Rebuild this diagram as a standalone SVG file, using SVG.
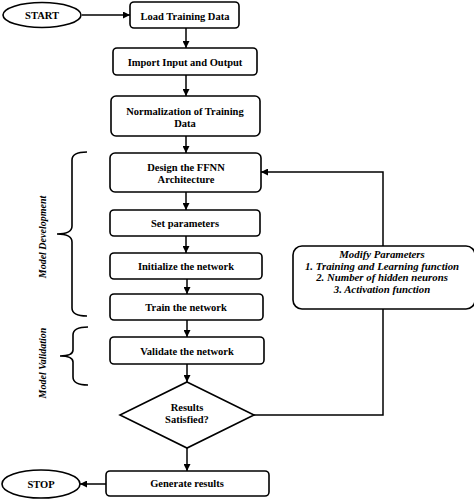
<svg xmlns="http://www.w3.org/2000/svg" width="474" height="501" viewBox="0 0 474 501">
<style>
.box{fill:#fff;stroke:#000;stroke-width:1.6}
.t{font-family:"Liberation Serif","Times New Roman",serif;font-weight:bold;font-size:10.5px;text-anchor:middle;fill:#000}
.it{font-family:"Liberation Serif","Times New Roman",serif;font-weight:bold;font-style:italic;font-size:10px;text-anchor:middle;fill:#000}
.mt{font-size:10.8px}
.c{fill:none;stroke:#000;stroke-width:1.5}
.br{fill:none;stroke:#000;stroke-width:1.6}
</style>
<defs>
<marker id="ah" viewBox="0 0 10 10" refX="10" refY="5" markerWidth="7" markerHeight="7" markerUnits="userSpaceOnUse" orient="auto">
<path d="M0,0 L10,5 L0,10 z" fill="#000"/>
</marker>
</defs>
<rect width="474" height="501" fill="#fff"/>
<g id="connectors">
<line class="c" x1="82" y1="15" x2="130" y2="15" marker-end="url(#ah)"/>
<line class="c" x1="186" y1="28" x2="186" y2="48" marker-end="url(#ah)"/>
<line class="c" x1="186" y1="75" x2="186" y2="96" marker-end="url(#ah)"/>
<line class="c" x1="186" y1="136" x2="186" y2="153" marker-end="url(#ah)"/>
<line class="c" x1="186" y1="192" x2="186" y2="210" marker-end="url(#ah)"/>
<line class="c" x1="186" y1="236" x2="186" y2="253" marker-end="url(#ah)"/>
<line class="c" x1="187" y1="279" x2="187" y2="294" marker-end="url(#ah)"/>
<line class="c" x1="187" y1="320" x2="187" y2="337" marker-end="url(#ah)"/>
<line class="c" x1="187" y1="364" x2="187" y2="382" marker-end="url(#ah)"/>
<line class="c" x1="187" y1="448" x2="187" y2="471" marker-end="url(#ah)"/>
<polyline class="c" points="254,415 383,415 383,172 261,172" marker-end="url(#ah)"/>
<line class="c" x1="106" y1="484" x2="80" y2="484" marker-end="url(#ah)"/>
</g>
<g id="start">
<ellipse class="box" cx="42" cy="15" rx="39" ry="12.5"/>
<text class="t" x="42" y="19">START</text>
</g>
<g id="load">
<rect class="box" x="130" y="2" width="109" height="26" rx="4"/>
<text class="t" x="185" y="19.5">Load Training Data</text>
</g>
<g id="import">
<rect class="box" x="113" y="48" width="144" height="27" rx="4"/>
<text class="t" x="185" y="66">Import Input and Output</text>
</g>
<g id="normalization">
<rect class="box" x="111" y="96" width="149" height="40" rx="5"/>
<text class="t" x="185" y="115">Normalization of Training</text>
<text class="t" x="185" y="126.5">Data</text>
</g>
<g id="design">
<rect class="box" x="110" y="153" width="151" height="39" rx="5"/>
<text class="t" x="186" y="171">Design the FFNN</text>
<text class="t" x="186" y="182.5">Architecture</text>
</g>
<g id="setparams">
<rect class="box" x="110" y="210" width="150" height="26" rx="4"/>
<text class="t" x="185" y="227">Set parameters</text>
</g>
<g id="initialize">
<rect class="box" x="110" y="253" width="152" height="26" rx="4"/>
<text class="t" x="186" y="270">Initialize the network</text>
</g>
<g id="train">
<rect class="box" x="110" y="294" width="153" height="26" rx="4"/>
<text class="t" x="186" y="311">Train the network</text>
</g>
<g id="validate">
<rect class="box" x="110" y="337" width="154" height="27" rx="4"/>
<text class="t" x="187" y="355">Validate the network</text>
</g>
<g id="decision">
<polygon class="box" points="187,382 254,415 187,448 120,415"/>
<text class="t" x="187" y="411">Results</text>
<text class="t" x="187" y="423">Satisfied?</text>
</g>
<g id="generate">
<rect class="box" x="106" y="471" width="163" height="25" rx="4"/>
<text class="t" x="187" y="487">Generate results</text>
</g>
<g id="stop">
<ellipse class="box" cx="41" cy="484" rx="39" ry="14"/>
<text class="t" x="41" y="488">STOP</text>
</g>
<g id="modify">
<rect class="box" x="293" y="246" width="182" height="63" rx="9"/>
<text class="it mt" x="382" y="258">Modify Parameters</text>
<text class="it mt" x="382" y="269.5">1. Training and Learning function</text>
<text class="it mt" x="382" y="281">2. Number of hidden neurons</text>
<text class="it mt" x="382" y="292.5">3. Activation function</text>
</g>
<g id="dev-brace">
<path class="br" d="M87,152 Q72,152 72,160 L72,226 Q72,234 57,234 Q72,234 72,242 L72,308 Q72,316 87,316"/>
<text class="it" transform="translate(46,237) rotate(-90)">Model Development</text>
</g>
<g id="val-brace">
<path class="br" d="M88,327 Q73,327 73,335 L73,350 Q73,356 60,356 Q73,356 73,362 L73,377 Q73,385 88,385"/>
<text class="it" transform="translate(46,363) rotate(-90)">Model Validation</text>
</g>
</svg>
